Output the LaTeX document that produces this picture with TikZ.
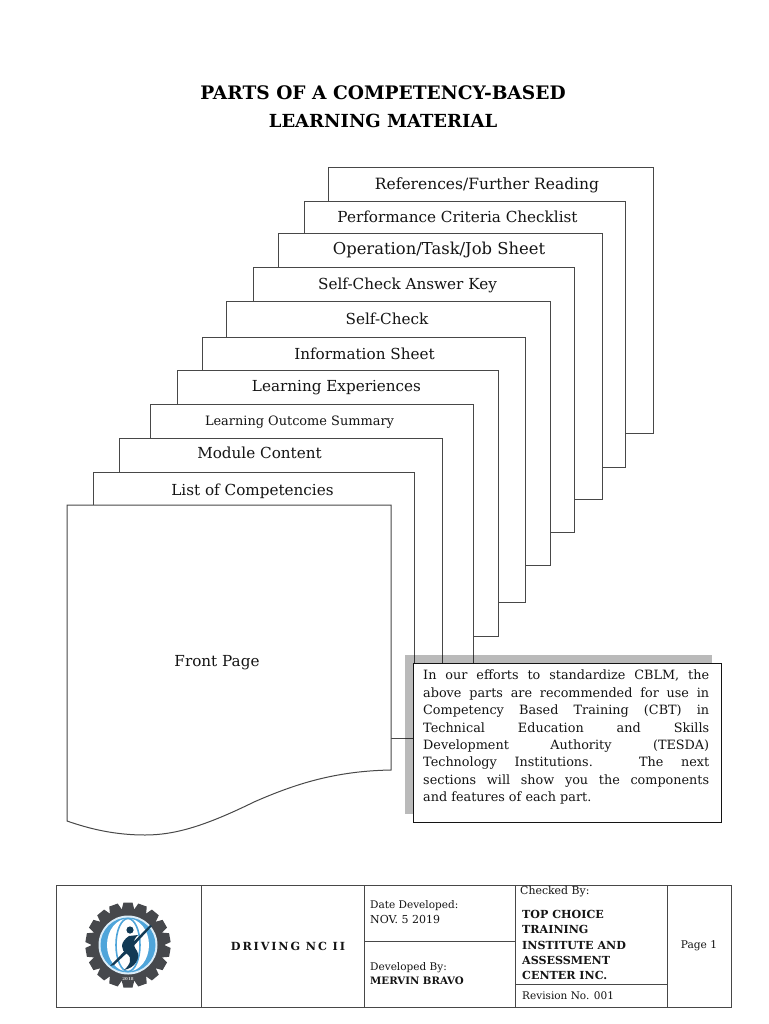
\documentclass[tikz,border=0pt]{standalone}
\usepackage{fontspec}
\usepackage{xcolor}
\usepackage{tikz}
\usetikzlibrary{positioning}
\setmainfont{DejaVu Serif}
\definecolor{ink}{HTML}{141414}
\definecolor{rule}{HTML}{484848}
\definecolor{gearc}{HTML}{46484C}
\definecolor{globe}{HTML}{4FA5DA}
\definecolor{navy}{HTML}{123A55}
\newcommand{\fs}[1]{\fontsize{#1}{#1}\selectfont}
\tikzset{
  sheet/.style={rectangle, draw=rule, fill=white, line width=1pt, anchor=north west,
                inner sep=0pt, outer sep=0pt},
  partlbl/.style={font=\fs{15.2}, text=ink, inner sep=0pt},
  cell/.style={sheet, draw=rule, line width=1pt},
  celltxt/.style={font=\fs{10.5}, text=ink, align=left, anchor=west, inner sep=0pt},
  cellbf/.style={celltxt, font=\fs{10.2}\bfseries},
  noteshade/.style={rectangle, fill=black, opacity=.27, anchor=north west, inner sep=0pt},
  notebox/.style={rectangle, draw=ink, line width=1pt, fill=white, anchor=north west,
                  inner sep=0pt, outer sep=0pt},
  notetxt/.style={font=\fontsize{12.8}{17.4}\selectfont, text=ink, text width=286pt,
                  align=justify, inner sep=0pt, anchor=north west}
}
\begin{document}
\begin{tikzpicture}[x=1pt, y=-1pt]
  \useasboundingbox (0,0) rectangle (768,1024);

  % title
  \node[font=\fs{18.6}\bfseries, text=black, align=center, inner sep=0pt] (title) at (383,107)
    {PARTS OF A COMPETENCY-BASED\\[9.5pt]{\fs{18}\bfseries LEARNING MATERIAL}};

  % sheets, back to front
  \node[sheet, minimum width=325pt, minimum height=265pt] (refs) at (328,168) {};
  \node[partlbl, font=\fs{15.5}, below=10pt of refs.north, xshift=-3.5pt] (refslbl) {References/Further Reading};
  \node[sheet, minimum width=321pt, minimum height=265pt] (perf) at (304,202) {};
  \node[partlbl, below=8.5pt of perf.north, xshift=-7pt] (perflbl) {Performance Criteria Checklist};
  \node[sheet, minimum width=324pt, minimum height=266pt] (oper) at (278,233.5) {};
  \node[partlbl, font=\fs{16.4}, below=8.5pt of oper.north, xshift=-1pt] (operlbl) {Operation/Task/Job Sheet};
  \node[sheet, minimum width=321pt, minimum height=265pt] (akey) at (253,267.5) {};
  \node[partlbl, below=10.5pt of akey.north, xshift=-6pt] (akeylbl) {Self-Check Answer Key};
  \node[sheet, minimum width=324pt, minimum height=264pt] (chk) at (226,301.5) {};
  \node[partlbl, below=11.5pt of chk.north, xshift=-1pt] (chklbl) {Self-Check};
  \node[sheet, minimum width=323pt, minimum height=265pt] (info) at (202,337) {};
  \node[partlbl, below=10.5pt of info.north, xshift=1pt] (infolbl) {Information Sheet};
  \node[sheet, minimum width=321pt, minimum height=266pt] (lexp) at (177,370.5) {};
  \node[partlbl, below=9.5pt of lexp.north, xshift=-1pt] (lexplbl) {Learning Experiences};
  \node[sheet, minimum width=323pt, minimum height=266pt] (summ) at (150,404.5) {};
  \node[partlbl, font=\fs{12.9}, below=11.5pt of summ.north, xshift=-12pt] (summlbl) {Learning Outcome Summary};
  \node[sheet, minimum width=323pt, minimum height=266pt] (cont) at (119,438) {};
  \node[partlbl, below=8.5pt of cont.north, xshift=-21pt] (contlbl) {Module Content};
  \node[sheet, minimum width=321pt, minimum height=266pt] (comp) at (93,472) {};
  \node[partlbl, below=11.5pt of comp.north, xshift=-1pt] (complbl) {List of Competencies};

  % front page with the wavy foot
  \draw[draw=rule, fill=white, line width=1pt] (67,505) -- (391,505) -- (391,770)
    .. controls (335,771) and (295,784) .. (254,802)
    .. controls (205,826) and (175,835) .. (145,835)
    .. controls (115,835) and (90,829) .. (67,821) -- cycle;
  \node[partlbl] (frontlbl) at (217,662.5) {Front Page};

  % note
  \node[noteshade, minimum width=307pt, minimum height=159pt] (noteback) at (405,655) {};
  \node[notebox, minimum width=308pt, minimum height=159pt] (note) at (413,663) {};
  \node[notetxt] (notetext) at (423,670) {In our efforts to standardize CBLM, the\linebreak
    above parts are recommended for use in\linebreak
    Competency Based Training (CBT) in\linebreak
    Technical Education and Skills\linebreak
    Development Authority (TESDA)\linebreak
    Technology Institutions.  The next\linebreak
    sections will show you the components\linebreak
    and features of each part.};

  % footer table
  \node[cell, minimum width=145pt, minimum height=122pt] (logocell) at (56,885) {};
  \node[cell, minimum width=163pt, minimum height=122pt, font=\fs{11.2}\bfseries, text=ink, xshift=0pt] (qual) at (201,885) {};
  \node[font=\fs{11.2}\bfseries, text=ink, inner sep=0pt] (qualtxt) at (288,946)
    {D\,R\,I\,V\,I\,N\,G\, N\,C\, I\,I};
  \node[cell, minimum width=151pt, minimum height=56pt] (datecell) at (364,885) {};
  \node[cell, minimum width=151pt, minimum height=66pt] (devcell) at (364,941) {};
  \node[cell, minimum width=152pt, minimum height=99pt] (chkcell) at (515,885) {};
  \node[cell, minimum width=152pt, minimum height=23pt] (revcell) at (515,984) {};
  \node[cell, minimum width=64pt, minimum height=122pt, font=\fs{10.6}, text=ink] (page) at (667,885) {Page 1};

  \node[celltxt] (datelbl) at (370,906) {Date Developed:};
  \node[celltxt, font=\fs{11}] (dateval) at (370,919) {NOV. 5 2019};
  \node[celltxt] (devlbl) at (370,968) {Developed By:};
  \node[cellbf] (devval) at (370,981) {MERVIN BRAVO};
  \node[celltxt, font=\fs{10.9}] (chklabel) at (520,892) {Checked By:};
  \node[cellbf, font=\fontsize{11.1}{15.2}\selectfont\bfseries] (school) at (522,945)
    {TOP CHOICE\\TRAINING\\INSTITUTE AND\\ASSESSMENT\\CENTER INC.};
  \node[celltxt] (revlbl) at (522,995.5) {Revision No. 001};

  % logo
  \fill[gearc] (128,945) circle (36.5);
  \foreach \a in {0,20,...,340}
    \fill[gearc, rotate around={\a:(128,945)}] (123.5,902.5) -- (132.5,902.5) -- (135,912) -- (121,912) -- cycle;
  \fill[white!80!globe] (128,945) circle (29.5);
  \fill[globe] (128,945) circle (27.5);
  \fill[white] (128,945) ellipse (21 and 26.5);
  \draw[globe, line width=1.6pt] (128,945) ellipse (12 and 26.5);
  \fill[navy] (110,966) -- (150,925) -- (152,926) -- (128,952) -- (114,965) -- cycle;
  \fill[navy] (130,930) circle (3.6);
  \fill[navy] (129,936) .. controls (120,942) and (120,950) .. (127,954)
    .. controls (133,958) and (130,965) .. (124,970)
    .. controls (135,968) and (141,958) .. (137,951)
    .. controls (133,945) and (132,941) .. (138,935) -- cycle;
  \node[font=\fs{4}\bfseries, text=white!85!black, inner sep=0pt] (logoyear) at (128,979) {2018};
\end{tikzpicture}
\end{document}
